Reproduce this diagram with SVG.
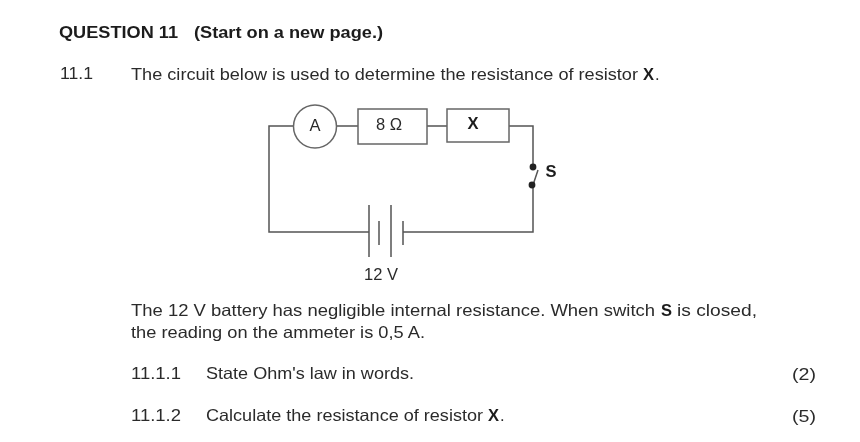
<svg xmlns="http://www.w3.org/2000/svg" width="860" height="442" viewBox="0 0 860 442">
<defs><filter id="soft" x="0" y="0" width="100%" height="100%"><feGaussianBlur stdDeviation="0.45"/></filter></defs>
<style>
text{font-family:"Liberation Sans",Arial,sans-serif;font-size:16.5px;fill:#2b2b2b}
.b{font-weight:bold;fill:#1c1c1c}
.w{fill:none;stroke:#555;stroke-width:1.5}
.n{fill:#fff;stroke:#666;stroke-width:1.5}
.d{fill:#222}
</style>
<rect width="860" height="442" fill="#fff"/>
<g filter="url(#soft)">
<text class="b" x="59" y="38" textLength="119" lengthAdjust="spacingAndGlyphs">QUESTION 11</text>
<text class="b" x="194" y="38" textLength="189" lengthAdjust="spacingAndGlyphs">(Start on a new page.)</text>
<text x="60" y="79" textLength="33" lengthAdjust="spacingAndGlyphs">11.1</text>
<text x="131" y="80" textLength="507" lengthAdjust="spacingAndGlyphs">The circuit below is used to determine the resistance of resistor</text>
<text class="b" x="643" y="80">X</text>
<text x="655" y="80">.</text>
<g id="connectors">
<path class="w" d="M294 126H269V232H369M403 232H533V185M533 167V126H509M337 126H358M427 126H447"/>
<path class="w" d="M369 205V257M379 221V245M391 205V257M403 221V245"/>
<path class="w" d="M533 185L538 170"/>
</g>
<g id="ammeter"><circle class="n" cx="315" cy="126.5" r="21.5"/><text x="315" y="131" text-anchor="middle">A</text></g>
<g id="resistor-8"><rect class="n" x="358" y="109" width="69" height="35"/><text x="389" y="130" text-anchor="middle">8 Ω</text></g>
<g id="resistor-x"><rect class="n" x="447" y="109" width="62" height="33"/><text class="b" x="473" y="129" text-anchor="middle">X</text></g>
<g id="switch"><circle class="d" cx="533" cy="167" r="3.4"/><circle class="d" cx="532" cy="185" r="3.4"/><text class="b" x="551" y="177" text-anchor="middle">S</text></g>
<g id="battery"><text x="381" y="280" text-anchor="middle">12 V</text></g>
<text x="131" y="316" textLength="524" lengthAdjust="spacingAndGlyphs">The 12 V battery has negligible internal resistance. When switch</text>
<text class="b" x="661" y="316">S</text>
<text x="677" y="316" textLength="80" lengthAdjust="spacingAndGlyphs">is closed,</text>
<text x="131" y="338" textLength="294" lengthAdjust="spacingAndGlyphs">the reading on the ammeter is 0,5 A.</text>
<text x="131" y="379" textLength="50" lengthAdjust="spacingAndGlyphs">11.1.1</text>
<text x="206" y="379" textLength="208" lengthAdjust="spacingAndGlyphs">State Ohm's law in words.</text>
<text x="792" y="380" textLength="24" lengthAdjust="spacingAndGlyphs">(2)</text>
<text x="131" y="421" textLength="50" lengthAdjust="spacingAndGlyphs">11.1.2</text>
<text x="206" y="421" textLength="277" lengthAdjust="spacingAndGlyphs">Calculate the resistance of resistor</text>
<text class="b" x="488" y="421">X</text>
<text x="500" y="421">.</text>
<text x="792" y="422" textLength="24" lengthAdjust="spacingAndGlyphs">(5)</text>
</g>
</svg>
